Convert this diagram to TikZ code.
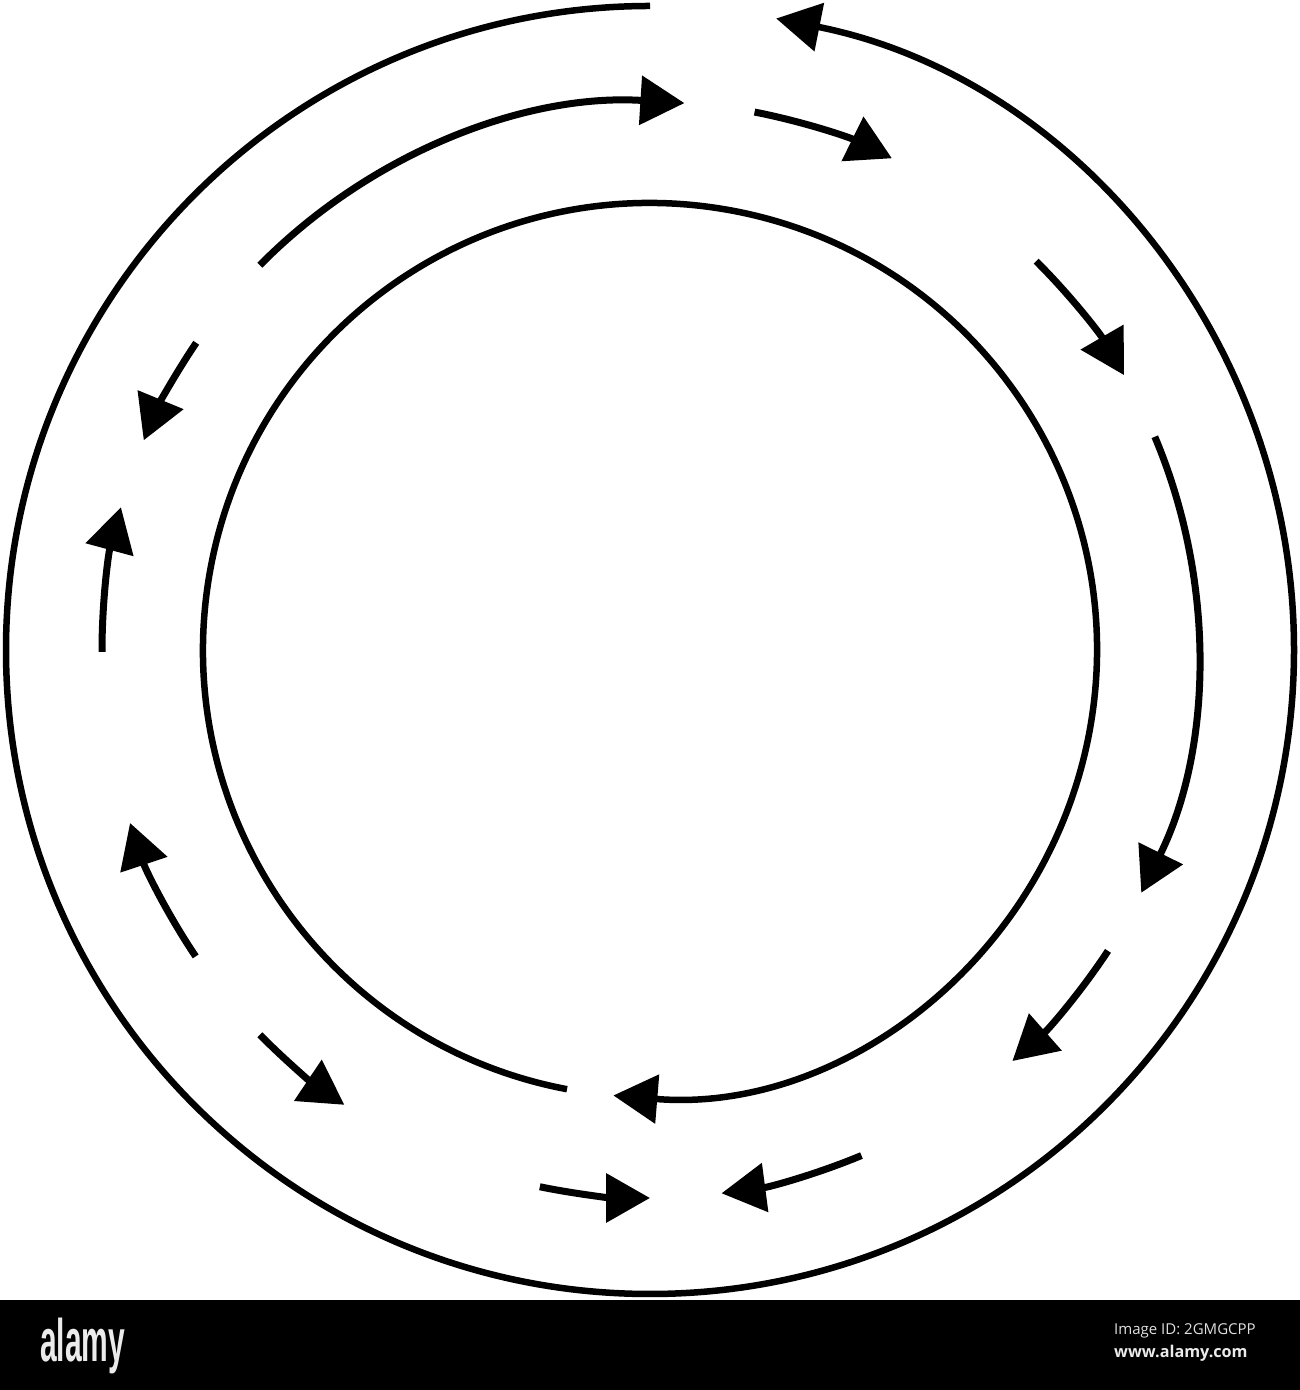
\documentclass[tikz,border=0pt]{standalone}
\usepackage{fontspec}
\setmainfont{Open Sans}
\newfontfamily\logofont{Liberation Sans}
\usetikzlibrary{arrows.meta}

\begin{document}
\begin{tikzpicture}[x=1pt,y=1pt,
  ringline/.style={line width=6.5pt},
  ringarrow/.style={line width=7pt,-{Triangle[length=44pt,width=48pt]}}]
\useasboundingbox (0,0) rectangle (1300,1390);
\coordinate (c) at (650,740);
\begin{scope}[shift={(c)}]
% outer ring
\draw [ringline,-{Triangle[length=44pt,width=48pt]}] (90:644) arc[start angle=90, end angle=438.7, radius=644];
% inner ring
\draw [ringline,-{Triangle[length=44pt,width=48pt]}] (259.3:447) arc[start angle=259.3, end angle=-94.7, radius=447];
% middle ring arrows
\draw [ringarrow] (135.4:548) arc[start angle=135.4, end angle=86.4, radius=548];
\draw [ringarrow] (79:548) arc[start angle=79, end angle=63.8, radius=548];
\draw [ringarrow] (45.2:548) arc[start angle=45.2, end angle=30.1, radius=548];
\draw [ringarrow] (22.9:548) arc[start angle=22.9, end angle=-26.3, radius=548];
\draw [ringarrow] (-33.3:548) arc[start angle=-33.3, end angle=-48.6, radius=548];
\draw [ringarrow] (-67.3:548) arc[start angle=-67.3, end angle=-82.5, radius=548];
\draw [ringarrow] (258.4:548) arc[start angle=258.4, end angle=270, radius=548];
\draw [ringarrow] (224.6:548) arc[start angle=224.6, end angle=236.1, radius=548];
\draw [ringarrow] (214:548) arc[start angle=214, end angle=198.4, radius=548];
\draw [ringarrow] (180.2:548) arc[start angle=180.2, end angle=164.9, radius=548];
\draw [ringarrow] (145.9:548) arc[start angle=145.9, end angle=157.5, radius=548];
\end{scope}
% bottom bar
\fill [black] (0,0) rectangle (1300,90);
% Text Node
\node (logo) [anchor=west,inner sep=0pt,text=white!92!black,xscale=0.5] at (40,44) {\logofont\bfseries\fontsize{60}{60}\selectfont alamy};
% Text Node
\node (imgid) [anchor=south west,inner sep=0pt,text=white!88!black] at (1114,52) {\fontsize{15}{15}\selectfont Image ID: 2GMGCPP};
% Text Node
\node (site) [anchor=south west,inner sep=0pt,text=white!92!black] at (1114,28) {\bfseries\fontsize{16.2}{16.2}\selectfont www.alamy.com};
\end{tikzpicture}
\end{document}
